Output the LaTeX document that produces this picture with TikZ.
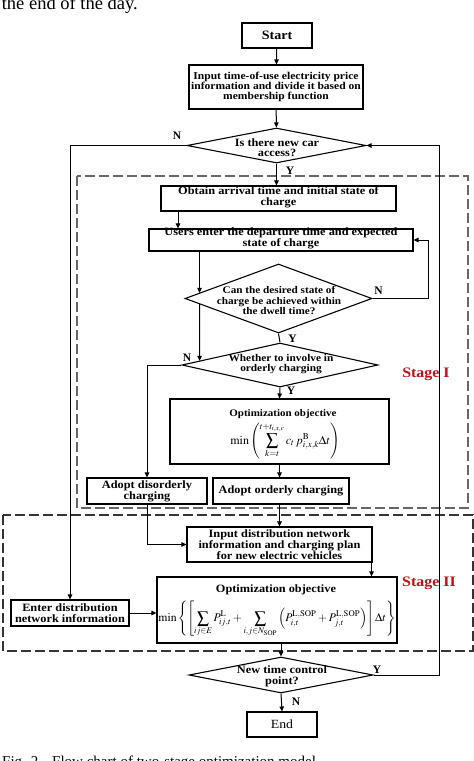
\documentclass[tikz,border=0pt]{standalone}
\usepackage{mathptmx}
\usepackage{amsmath}
\usepackage{fontspec}
\setmainfont{Liberation Serif}
\newfontfamily\bfs{Liberation Serif}[FakeStretch=1.1]
\usetikzlibrary{shapes.geometric,arrows.meta,calc}
\definecolor{stagered}{RGB}{192,16,24}
\begin{document}
\begin{tikzpicture}[x=1pt,y=-1pt,
  box/.style={draw=black, line width=1.1pt, inner sep=0pt, align=center, font=\bfs\bfseries\fontsize{11.2}{10}\selectfont},
  dia/.style={draw=black, line width=1.1pt, diamond, inner sep=0pt},
  txt/.style={inner sep=0pt, align=center, font=\bfs\bfseries\fontsize{11.2}{10}\selectfont},
  arr/.style={line width=1pt, -{Triangle[length=5pt,width=4.5pt]}},
  ln/.style={line width=1pt},
  lab/.style={font=\bfseries\fontsize{11.5}{11}\selectfont, inner sep=0pt},
  stage/.style={font=\bfs\bfseries\fontsize{14.5}{14}\selectfont, text=stagered, inner sep=0pt},
  dboxa/.style={draw=black!60, line width=1.2pt, dash pattern=on 10pt off 4pt},
  dboxb/.style={draw=black!80, line width=1.4pt, dash pattern=on 10pt off 4pt},
  plain/.style={inner sep=0pt},
  mth/.style={inner sep=0pt}
]
\useasboundingbox (0,0) rectangle (474,761);
\clip (0,0) rectangle (474,761);

% cut-off surrounding text
\node[plain, anchor=base east, font=\fontsize{18.5}{18}\selectfont] (toptext) at (138,9.5) {the end of the day.};
\node[plain, anchor=base west, font=\fontsize{15}{15}\selectfont] (caption) at (2,766) {Fig. 2.\hspace{10pt}Flow chart of two-stage optimization model.};

% stage frames
\draw[dboxa] (77,176) rectangle (468,508);
\draw[dboxb] (3,515) rectangle (473,651);
\node[stage] (stage1) at (426,374) {Stage I};
\node[stage] (stage2) at (429,583) {Stage II};

% helper x positions
\coordinate (xa) at (178,0);
\coordinate (xc) at (428,0);
\coordinate (xd) at (439,0);

% nodes
\node[box, minimum width=70pt, minimum height=25pt, font=\bfs\bfseries\fontsize{12.8}{12}\selectfont] (start) at (277,35.5) {Start};
\node[box, minimum width=174pt, minimum height=44pt, font=\bfs\bfseries\fontsize{10.5}{10}\selectfont] (input) at (276,87) {Input time-of-use electricity price\\information and divide it based on\\membership function};
\node[dia, minimum width=179pt, minimum height=35pt] (d1) at (276.5,145.5) {};
\node[txt] (d1t) at (277,147.5) {Is there new car\\access?};
\node[box, minimum width=235pt, minimum height=25pt] (obtain) at (278.5,198.5) {};
\node[txt, font=\bfs\bfseries\fontsize{11.2}{11}\selectfont] (obtaint) at (278.5,197.5) {Obtain arrival time and initial state of\\charge};
\node[box, minimum width=264pt, minimum height=22pt] (users) at (281,240) {};
\node[txt, font=\bfs\bfseries\fontsize{11.2}{9.5}\selectfont] (userst) at (281,238) {Users enter the departure time and expected\\state of charge};
\node[dia, minimum width=187pt, minimum height=69pt] (d2) at (278.5,298.5) {};
\node[txt, font=\bfs\bfseries\fontsize{10.2}{10.5}\selectfont] (d2t) at (279,300.5) {Can the desired state of\\charge be achieved within\\the dwell time?};
\node[dia, minimum width=196pt, minimum height=44pt] (d3) at (280,365) {};
\node[txt, font=\bfs\bfseries\fontsize{10.3}{10.3}\selectfont] (d3t) at (281,364) {Whether to involve in\\orderly charging};
\node[box, minimum width=219pt, minimum height=65pt] (opt1) at (279.5,431.5) {};
\node[txt, font=\bfs\bfseries\fontsize{10}{10}\selectfont] (opt1t) at (283,414) {Optimization objective};
\node[mth, font=\fontsize{12}{12}\selectfont] (opt1f) at (285,441) {$\displaystyle\min\left(\sum_{k=t}^{t+t_{i,x,c}} c_t\, p_{i,x,k}^{\mathrm{B}}\Delta t\right)$};
\node[box, minimum width=120pt, minimum height=26pt] (disorder) at (147,491) {};
\node[txt] (disordert) at (147,491.7) {Adopt disorderly\\charging};
\node[box, minimum width=136pt, minimum height=26pt] (orderly) at (281,491) {Adopt orderly charging};
\node[box, minimum width=185pt, minimum height=35pt, font=\bfs\bfseries\fontsize{11.2}{11}\selectfont] (inputdist) at (279.5,544.5) {Input distribution network\\information and charging plan\\for new electric vehicles};
\node[box, minimum width=240pt, minimum height=66pt] (opt2) at (277,610) {};
\node[txt] (opt2t) at (276,590) {Optimization objective};
\node[mth, font=\fontsize{11.7}{11.7}\selectfont] (opt2f) at (277,619) {$\displaystyle\min\left\{\left[\sum_{ij\in E} P_{ij,t}^{\mathrm{L}}+\sum_{i,j\in N_{\mathrm{SOP}}}\left(P_{i,t}^{\mathrm{L,SOP}}+P_{j,t}^{\mathrm{L,SOP}}\right)\right]\Delta t\right\}$};
\node[box, minimum width=118pt, minimum height=26pt, font=\bfs\bfseries\fontsize{11.2}{11}\selectfont] (enter) at (70,613) {Enter distribution\\network information};
\node[dia, minimum width=184pt, minimum height=36pt] (d4) at (281,675) {};
\node[txt, font=\bfs\bfseries\fontsize{11.2}{11}\selectfont] (d4t) at (282,676) {New time control\\point?};
\node[box, minimum width=70pt, minimum height=25pt, font=\bfs\fontsize{12.5}{12}\selectfont] (end) at (282,724.5) {End};

% edge points on diamonds
\coordinate (d2in) at ($(d2.west)!0.16!(d2.north)$);
\coordinate (d2out) at ($(d2.west)!0.16!(d2.south)$);
\coordinate (d3in) at ($(d3.west)!0.184!(d3.north)$);

% connectors
\draw[arr] (start) -- (input);
\draw[arr] (input) -- (d1);
\draw[arr] (d1.west) -| (enter.north);
\draw[arr] (d1.south) -- (d1.south |- obtain.north);
\draw[arr] (obtain.south -| xa) -- (users.north -| xa);
\draw[arr] (users.south -| d2in) -- (d2in);
\draw[arr] (d2out) -- (d3in);
\draw[arr] (d2.east) -- (d2.east -| xc) |- (users.east);
\draw[ln] (d2.south) -- (d3.north);
\draw[arr] (d3.west) -| (disorder.north);
\draw[arr] (d3.south) -- (opt1.north);
\draw[arr] (opt1.south) -- (opt1.south |- orderly.north);
\draw[arr] (orderly.south -| opt1.south) -- (opt1.south |- inputdist.north);
\draw[arr] (disorder.south) |- (inputdist.west);
\draw[arr] ([xshift=-1pt]inputdist.south east) -- ([xshift=-1pt]inputdist.south east |- opt2.north);
\draw[arr] (enter.east) -- (enter.east -| opt2.west);
\draw[arr] (d4.north |- opt2.south) -- (d4.north);
\draw[arr] (d4.east) -- (d4.east -| xd) |- (d1.east);
\draw[arr] (d4.south) -- (end.north);

% branch labels
\node[lab] (n1) at (177,136) {N};
\node[lab] (y1) at (290,171) {Y};
\node[lab] (n2) at (378.5,291) {N};
\node[lab] (y2) at (292.5,339) {Y};
\node[lab] (n3) at (187,357.5) {N};
\node[lab] (y3) at (291,391) {Y};
\node[lab] (y4) at (377,670) {Y};
\node[lab] (n4) at (296,702) {N};
\end{tikzpicture}
\end{document}
